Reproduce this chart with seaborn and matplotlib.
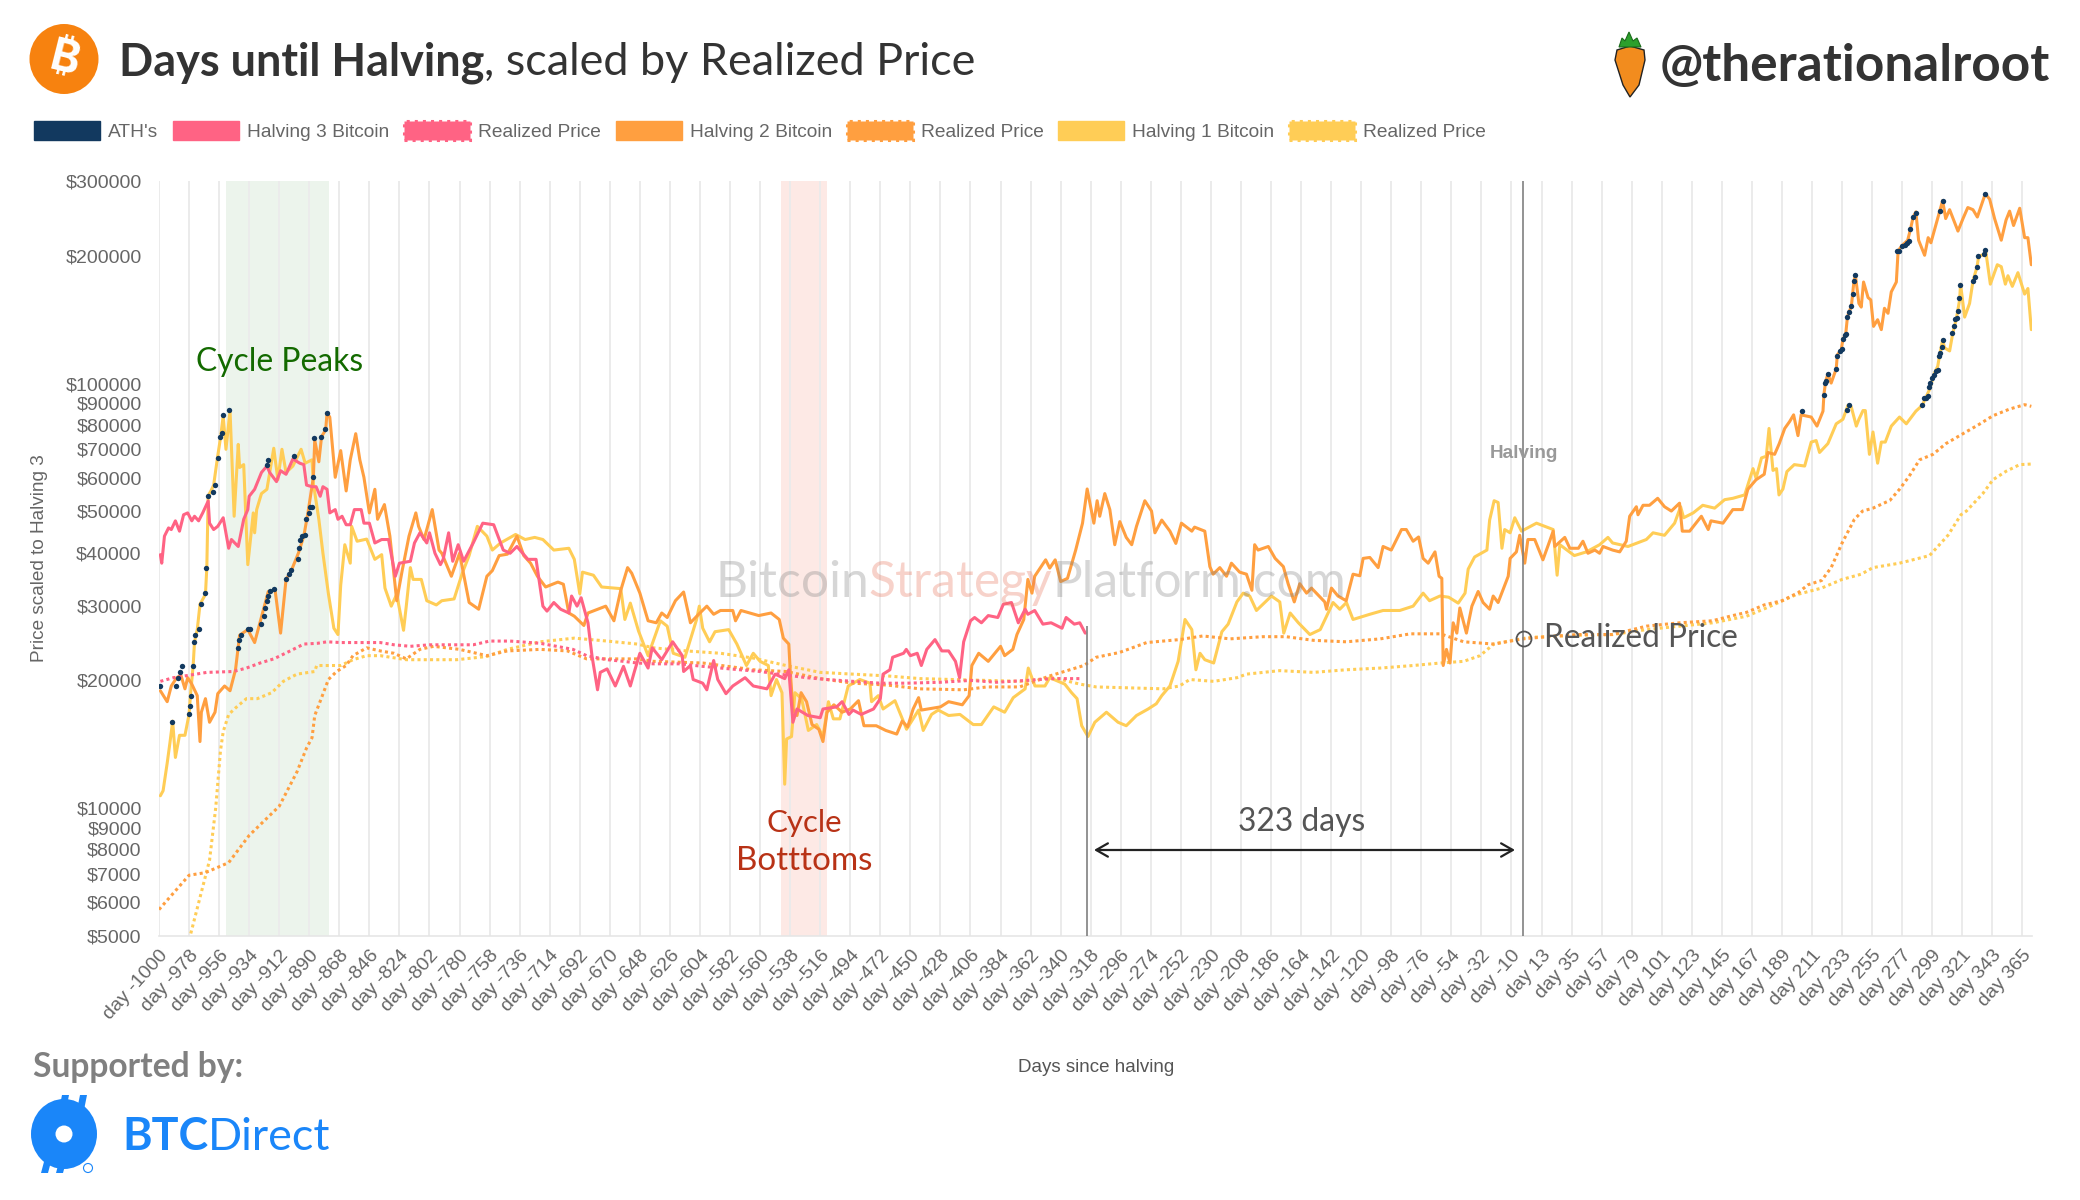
import numpy as np
import pandas as pd
import seaborn as sns
import matplotlib
matplotlib.use("Agg")
import matplotlib.pyplot as plt
from matplotlib.patches import Patch, Ellipse, Polygon, Circle

# ---------------- data (prices in thousands of dollars) ----------------
h3_days = [-999,-998,-996,-993,-991,-988,-985,-982,-979,-976,-974,-971,-968,-964,-963,-960,-957,-953,-949,-947,-942,-938,-935,-934,-930,-925,-921,-919,-914,-911,-907,-902,-897,-894,-892,-888,-885,-882,-880,-877,-875,-871,-869,-866,-863,-860,-857,-852,-850,-846,-842,-837,-832,-827,-824,-816,-813,-809,-804,-802,-798,-794,-792,-788,-785,-781,-777,-770,-763,-755,-748,-743,-738,-730,-724,-719,-716,-711,-706,-700,-698,-694,-691,-686,-683,-679,-677,-672,-666,-660,-655,-652,-648,-642,-639,-632,-624,-617,-616,-611,-609,-602,-599,-594,-591,-585,-580,-571,-565,-555,-549,-542,-539,-536,-533,-525,-516,-514,-504,-500,-495,-492,-486,-477,-472,-470,-465,-463,-455,-453,-450,-445,-442,-438,-432,-427,-422,-417,-414,-411,-406,-403,-398,-393,-386,-382,-376,-371,-366,-364,-359,-353,-347,-339,-336,-330,-326,-322]
h3_price = [40,38.2,44.2,46.2,45.8,48,45.4,49.6,50.1,48,49.2,48,50.1,53.4,47.4,45.8,46.6,48.8,41.4,43.4,41.8,48.4,51,54.8,56.9,62.3,64.5,62.3,59.3,62.9,61.7,67,65.5,65,58.2,57.7,57.7,54.8,57.7,56.9,50.1,51,48.4,49.2,47,47,51,51,47.4,47.4,42.6,43.4,43.4,35.6,38.2,38.6,42.6,45,42.6,45,40.3,37.9,39,45,38.6,42.2,38.6,42.6,47.4,47,41,40.3,41.8,39,39,30.3,29.5,30.9,29.8,29.2,32,30.3,31.7,27.7,23.1,19.3,21.2,21.6,19.7,21.9,19.7,21.3,23.5,21.7,24.2,22.7,25,23.2,21.3,22,20.4,20,19.3,22.6,20.4,18.9,19.7,20.6,19.7,19.4,21,20.5,21.5,16.2,17.4,16.8,16.6,17.4,17.6,18.1,16.9,17.3,16.9,17.4,18.4,21,21.5,23,23.5,24,23.2,23.5,22,24,25.3,23.8,23.8,22.5,20.6,25,28,28.5,27.7,28.8,28.5,30.6,30.9,27.7,29.8,29,29.6,27.5,27.7,26.9,28.5,27.5,27.7,26.2]

h2_days = [-999,-994,-991,-987,-984,-981,-979,-976,-972,-970,-969,-966,-963,-959,-957,-952,-948,-944,-942,-941,-935,-930,-926,-920,-915,-911,-907,-903,-898,-894,-891,-887,-886,-883,-881,-878,-877,-875,-871,-867,-863,-860,-856,-853,-850,-846,-842,-840,-835,-831,-826,-822,-817,-812,-810,-806,-800,-795,-793,-786,-780,-773,-766,-760,-756,-751,-745,-738,-733,-728,-723,-717,-708,-704,-700,-696,-689,-686,-673,-667,-662,-657,-654,-648,-642,-636,-632,-628,-622,-616,-611,-605,-599,-594,-589,-580,-578,-574,-561,-552,-546,-543,-539,-538,-536,-533,-530,-526,-522,-517,-514,-511,-506,-500,-494,-488,-484,-475,-468,-460,-456,-452,-448,-444,-442,-428,-422,-412,-407,-405,-400,-393,-384,-381,-375,-372,-367,-364,-361,-359,-351,-348,-344,-340,-335,-329,-324,-320.6,-315.7,-313.3,-311.4,-307.7,-304,-300.4,-296.7,-292,-288,-284.5,-278.4,-273.5,-271,-266,-260,-255.7,-251.6,-244,-242,-234.5,-230.8,-228.4,-223.5,-218.6,-215,-209,-204,-200,-198,-195.5,-188,-183,-177,-173.5,-169,-165,-160,-156.4,-146.7,-145.4,-141.8,-137,-131,-126,-121,-118.6,-113.7,-107.6,-104,-98,-90.5,-87,-82,-78,-74.7,-71,-66,-63,-61,-60,-57.6,-55,-52.7,-50,-47.8,-43,-39,-34.4,-30.8,-26,-23.4,-19.8,-12.4,-11,-6.4,-4,-0.3,2,7,13,17,20.5,21.7,29,32.7,39,42.3,46,51,54.5,57,64,69.2,74,76.5,81.4,82.6,86.3,91,97,102,107,113,115,120.4,125,129,134,136,144.8,152,159,163,169,175,177.7,182.6,186,190,193.6,196.5,199.7,202,209.4,213.6,218,218.7,220,221.6,224,227.7,228.5,231.4,232.6,234.6,235.8,236.8,238.7,239.7,240.7,241.7,244.3,246,247.7,251,253,255,258,260.7,263,265.6,268,271.7,273,276,280,282,284,286,288,292.4,295,297,303.4,305.6,307.8,310.7,316.8,320.5,324,327.8,331,336.8,340,343.6,348.5,352,354.6,357.5,362,365.6,368,370.5]
h2_price = [19.2,18.1,19.7,20.6,20.9,19.4,20.6,19.9,18.7,14.6,17.1,18.4,16.2,17.1,18.9,19.7,19.2,21.5,24.4,25.9,26.7,24.9,27.8,32.8,33,26.2,35,36.8,40.3,44.2,50.1,60.7,74.2,66,75.6,78.4,85.8,84,60.7,70.1,56.4,66.7,76.8,66.7,60.7,50.1,56.9,48.4,52.4,44.2,31.2,36.7,44.2,50.1,46.6,43.4,51,41,40.3,35.6,40.3,30.9,29.8,35.6,36.7,39.8,40.1,44.2,39.8,38.2,35.6,33.6,34.5,34.1,29.2,28.7,27.3,29.2,30.3,28,33,37.3,36.2,32.5,28,27.7,29.2,28.5,31.2,32.7,27.7,29,30.3,29,29.6,29.6,28,29.6,28.8,29.2,28.2,25.5,24.7,21.5,17.4,16.8,19,18.1,16,15.6,14.6,17.1,17.8,17.1,17.4,18.2,15.9,15.9,15.5,15.2,16.3,15.8,17.4,18.5,17.3,17.6,18.1,17.8,18.7,22,23.5,22.5,24.4,23.2,24,26,28.2,35,32.5,35.6,38.9,37.2,38.9,34.6,35.2,41,47.4,57,47.4,53.5,49.2,55.6,51,42.2,47.8,43.9,42.2,46.6,53.5,50.6,45,48.2,45.4,42.5,47.4,45.4,46.4,45.4,37.5,36,37.3,35.6,38.2,36.4,36,33,42.2,41,41.8,39.2,37.5,34.2,31,34.2,32.5,33.4,31,29.8,33.4,32,31.2,36,35.7,39.2,39.4,37.3,41.8,41,45.8,45.8,43,44,39.2,38.2,40.6,35.6,35.2,22,24,22.3,27.7,26.2,30,26.2,30.3,32.8,30.9,29.8,32,30.9,35.6,39.2,40.6,44.4,38.2,43.4,43.4,38.9,42.2,45.4,41.8,43.9,41.4,41.4,43,40.3,41,40.3,41.8,41,40.6,43,49.2,51.8,49.6,52.2,52.2,54.2,51.8,50.6,52.8,45.4,45.4,47.4,49.2,45.8,48,47.4,51,51,56.9,59.9,61.7,69.4,68.7,72.8,79,82,85,76,85,84,80,86.7,95,102,106,100.9,109,117.5,120.9,128,131,143,147.7,152,163,175,180.6,155,152,174,160,158,137,142,134.6,151,147,165,174,206,212,218,231,247,254,218,201,221,215,255,270,245,257,229,245,260,257,247,280,272,245,218,243,255,236,259,221,221,191]

h1_days = [-999,-997,-994,-992,-990,-988,-985,-981,-978,-977,-975,-974,-972,-970,-966,-965,-964,-962,-960,-957,-955,-953,-951,-948,-945,-942,-941,-938,-935,-931,-930,-928.5,-925,-921,-916,-913,-910,-907,-902,-896,-893,-888,-887,-883,-880,-876,-872,-869,-867,-864,-860,-859,-855,-848,-842,-837,-834.6,-830,-826,-821,-819,-816,-814,-808,-804,-797,-793,-784,-778,-773,-767,-760,-756,-750,-739,-732,-725,-719,-711,-700,-696,-692,-690,-682,-676,-662,-659,-655,-649,-642,-633,-628,-623.6,-615,-606.5,-604.5,-602,-597,-593,-583,-577,-570,-565,-560,-554,-552,-548,-544,-542,-540.6,-537,-534.5,-529.6,-524.7,-518.6,-514,-510,-506.4,-501.6,-495.5,-487,-479.6,-478.4,-473.5,-470,-461.3,-452.8,-444,-440.6,-434.5,-429.6,-422,-413.7,-404,-398,-389,-381,-374.7,-366,-363.7,-358.8,-351.5,-348,-337,-332,-328,-324.6,-320,-315,-306.5,-298,-292,-284.5,-276,-270,-266,-260,-254,-249,-244,-241,-238,-234.5,-228,-222,-217.4,-211,-206.4,-201.6,-196.7,-185.7,-179.6,-176.7,-172,-166,-157.6,-150,-140.6,-135.7,-130.8,-126,-113.7,-104,-91.8,-82,-74.7,-70,-62.4,-56,-49,-44,-41.7,-37,-28,-26,-22.7,-19.8,-17,-15,-11,-7.6,-2.7,8.3,20.5,23.4,25.4,36,44.8,54.5,60.6,64,75.3,88.7,93.6,102,109.4,113.8,116,123,130,138.7,146,152,160.7,166.8,169,173,176.5,178.5,181.4,184,185.8,188.7,191.6,197,204.6,209.4,213,215.5,221.6,227.7,232.6,236.3,238.7,242.4,244.3,247.3,249,252,254.6,258,260.7,263.6,268,274,279,286,290.7,296,299.7,302,303.4,305.6,307,310.7,313,315.6,318,318.7,321.7,325.3,327.8,330.7,332,336,337,340.5,345.6,348.5,351.5,353.4,356.6,360.7,365.6,368,370.5]
h1_price = [10.9,11.2,13,14.5,16.3,13.4,15.1,15.1,16.9,18.7,22,25,26.7,30.6,32.3,37.3,55,56.4,58.2,68.2,75,84.6,70.6,86.9,49.2,72.5,64,65,37.9,50.1,45,51,55.6,56.9,71,59.9,70.6,62.3,64.5,70.6,65.5,66.7,58.7,48.4,40.3,32.4,26.9,26,33.9,42.2,38.2,46.6,43,43.5,39,40,33.4,30.3,32.3,26.6,30.3,37.3,35,35,31.2,30.5,31.2,31.5,36.2,39.8,46.6,44.2,41,42.6,44.6,43.4,43.9,43.4,41,41.4,39,32.4,36.4,35.8,33.6,33.3,28.2,30.8,26.5,23.2,28,27.2,23.5,23,28.2,30.3,26.9,25,26.4,26.7,24.7,22,23.5,22.5,22,18.7,20.4,19,11.6,14.8,15,19,18.4,15.5,16,15,18.1,16.5,16.5,19.7,20.4,20,18.1,18.7,17.4,18.2,15.6,17.3,15.5,16.9,17.3,16.8,16.9,16,16,17.6,17.1,18.5,19.4,21.7,19.7,19.7,20.6,19.9,19,18.4,15.9,15,16.2,17.1,16.2,15.9,16.8,17.4,17.9,18.7,19.7,22.5,28.2,26.7,21.5,23.5,22.7,22.3,26.4,27.5,31,32.5,32,29.6,32,31,26.2,29.2,27.7,26,26.7,30.9,29.8,30.9,28.2,29,29.6,29.6,30.3,32.5,31.2,32,31.8,30.8,32.5,37,39.5,41,48.2,53.5,53,41.4,45.8,45,48.8,45.4,47.4,45.8,35.8,42.2,39.8,40.6,42.2,43.9,42.6,41.8,43.4,45,44.4,47.4,51.8,48.8,50.1,52.2,51.4,53.8,54.2,55.2,63.6,60.4,67.4,68,79,63,63.6,55.2,57,62.6,65,64.5,73.4,74,69.4,72.8,81,83,89.5,88.8,80,83,87,87,68.7,77.5,65.5,73.4,73.4,80,84,81,86.7,89.5,97.5,106.6,110.5,117.4,127.3,122,120,132,142.6,158,172,144,155,175,188.6,200,202,207,172,191,189,172,180,170,183,163,168,134.6]

rp3_days = [-999,-989.5,-977,-965,-945.6,-936,-926,-916,-904,-894,-884,-877,-867,-855,-838,-828,-816,-802,-782,-770,-758,-743,-721,-709,-697,-687,-672,-660,-650,-638,-619,-602,-582,-560,-541,-526,-511,-492,-472,-453,-428,-406,-387,-365,-345,-326]
rp3_price = [20.2,20.6,20.9,21.2,21.3,21.7,22.3,22.8,23.8,24.7,24.8,25,24.9,24.9,24.9,24.6,24.4,24.6,24.6,24.6,25.1,25.1,24.8,24.4,24,23.2,22.7,22.5,22.3,22.2,22.2,21.9,21.6,21.3,20.9,20.6,20.4,20.2,20,20,20.1,20.3,20.1,20.3,20.5,20.5]

rp2_days = [-1000,-978,-966,-949,-934,-912,-899,-892,-888,-886,-881,-876,-870,-863,-858,-848,-838,-828,-819,-809,-799,-780,-760,-745,-721,-701,-687,-672,-650,-638,-602,-565,-541,-516,-492,-467,-443,-411,-394,-370,-348,-323,-314,-297,-277,-253,-236,-216,-192,-175,-155,-131,-106,-84,-62,-45,-23,-1.5,16,39,64,88.7,113,137,150,162,175,188,200,207,217,224,232,241,247,254.6,267,274,281,288.7,298.5,308,320.5,332.7,342.4,354.6,365.6,370.5]
rp2_price = [5.9,7.1,7.2,7.6,8.8,10.3,12.4,14.1,14.9,16.8,18.5,20.4,21.3,22,23.2,24.2,23.8,23.5,22.8,24,24.4,24,23.2,23.8,24,23.8,22.8,22.8,22.8,22.5,22.3,21.5,21.3,20.5,20,19.8,19.4,19.3,19.6,19.6,20.8,22,23,23.6,24.9,25.3,25.8,25.4,25.7,25.7,25.2,25,25.4,26.1,26.1,25,24.7,25.4,25.7,26,26,27.2,27.7,28,28.7,29.3,30.5,31.2,32.6,34,34.8,37.3,42.6,48.4,50.6,51.4,53.6,56.9,61,66.7,68.7,72.8,76.8,80.9,84.6,87.7,89.8,89]

rp1_days = [-980,-978,-963,-958.5,-955,-953,-949,-944,-936,-928,-917.5,-909,-899,-886,-884.6,-867,-858,-848,-838,-819,-804,-782,-760,-745,-721,-696,-672,-650,-638,-614,-589,-565,-541,-516,-492,-467,-443,-419,-394,-370,-345,-326,-314,-289,-265,-253,-245.5,-228,-211,-204,-179.6,-155,-131,-106,-82,-62,-45,-33,-23,-9,3,39,64,88.7,113,137.5,162,176.5,198,217,232,246,254.6,274,296,309.5,319,323,335,342.4,352,362,370.5]
rp1_price = [4.7,5.0,7.7,10.2,13.9,15.4,16.9,17.5,18.4,18.4,19,20.2,21,21.3,22,22,22.7,23.2,23.2,22.7,22.7,22.7,23.1,24,25,25.5,25.1,24.7,24.2,23.8,23.5,22.9,22,21.2,21,20.8,20.5,20.4,20.3,20.2,20.6,19.9,19.6,19.5,19.4,19.7,20.4,20.2,20.6,21,21.4,21.2,21.5,21.7,22,22.3,22.5,23.2,24.7,25.2,25.6,25.9,26,26.7,27.2,27.7,28.7,30,32.2,33.4,35,36,37.3,38.2,39.8,44.4,49.6,50.6,55.6,59.9,62.7,65,65.2]

ath_days = [-990.2,-978.3,-977.3,-976.6,-975.4,-974.4,-973.4,-970.5,-969.3,-966.3,-965.4,-964.4,-960.2,-959.2,-956.6,-955.3,-954.1,-953.4,-948.5,
            -999.3,-987.6,-986.3,-984.6,-983.4,-942.4,-941.4,-940.2,-934.6,-933.1,-925.3,-923.4,-922.4,-921.2,-920.5,-918.7,-915.6,-907.3,-904.6,-903.4,-898.5,-897.3,-896.5,-895,-893.4,-892.4,-890.4,-889.5,-888,-887.3,-886.3,-881.4,-878.5,-877.3,
            -921.2,-920.5,-901.4,
            235.8,236.8,290.7,291.7,293.1,294.8,295.6,296.6,297.5,299,300.5,301.9,302.7,303.9,304.8,305.6,312.7,313.6,314.6,315.8,316.6,317.8,318.5,327.8,329,330.7,331.7,335.6,336.8,
            202.6,218.5,219.7,220.4,221.6,227.3,228.5,230.7,231.9,232.9,233.8,234.8,235.5,236.8,238.7,239.7,240.7,241.7,272.4,273.9,275.6,277.8,279.5,281,281.9,283.6,285.8,303.6,305.6,336.8]
ath_price = [16.2,16.9,17.7,18.7,22,25,25.9,26.8,30.6,32.5,37.2,55,56.2,58.2,67.2,75.4,77.2,84.8,87.1,
             19.7,19.7,20.6,21.2,22,24.2,25.2,25.9,26.8,26.8,27.5,28.8,30,31.2,32,32.8,33.2,35,36,36.8,39,41.4,43.4,44.2,44.5,48.4,50.1,51.8,51.8,60.7,75.2,75.6,78.6,85.8,
             65,66.7,68,
             87.1,89.5,89.7,93.3,93.3,94.2,98.7,100.9,103.6,105.5,107.8,108.4,116.5,118.6,122.5,127.3,131.9,137.3,142.6,143.2,149.2,159.4,171,174.9,178.8,188.8,200,202,207,
             87,94.8,101.2,102.3,105.8,109,117,120,121.5,128.3,130.7,131.8,143.7,147.7,152.8,163,174.8,180.7,206,206,211.6,212.7,215,217,231,247,253,255,270,280]

tick_positions = [-1000,-978,-956,-934,-912,-890,-868,-846,-824,-802,-780,-758,-736,-714,-692,-670,-648,-626,-604,-582,-560,-538,-516,-494,-472,-450,-428,-406,-384,-362,-340,-318,-296,-274,-252,-230,-208,-186,-164,-142,-120,-98,-76,-54,-32,-10,12,34,56,78,100,122,144,166,188,210,232,254,276,298,320,342,364]
tick_labels = ["day -1000","day -978","day -956","day -934","day -912","day -890","day -868","day -846","day -824","day -802","day -780","day -758","day -736","day -714","day -692","day -670","day -648","day -626","day -604","day -582","day -560","day -538","day -516","day -494","day -472","day -450","day -428","day -406","day -384","day -362","day -340","day -318","day -296","day -274","day -252","day -230","day -208","day -186","day -164","day -142","day -120","day -98","day -76","day -54","day -32","day -10","day 13","day 35","day 57","day 79","day 101","day 123","day 145","day 167","day 189","day 211","day 233","day 255","day 277","day 299","day 321","day 343","day 365"]
y_ticks = [5000,6000,7000,8000,9000,10000,20000,30000,40000,50000,60000,70000,80000,90000,100000,200000,300000]

PINK, ORANGE, GOLD, NAVY = "#FF6384", "#FF9F40", "#FFCD56", "#12395F"
DOTTED = (0, (1, 1.05))
UI = "Lato"
SANS = "Liberation Sans"
TOP_PRICE = 300000
# The values above were read against a 427.4 px/decade ruler; the axis measures 425 px/decade.
RULER = 427.4 / 425

sns.set_theme(style="white")
plt.rcParams["font.family"] = [SANS, "DejaVu Sans"]

W, H = 2080, 1200
AX_L, AX_R, AX_T, AX_B = 159, 2032, 181, 936
fig = plt.figure(figsize=(W / 100, H / 100), dpi=100, facecolor="white")
ax = fig.add_axes([AX_L / W, 1 - AX_B / H, (AX_R - AX_L) / W, (AX_B - AX_T) / H])
ax.set_yscale("log")

ax.axvspan(-951, -875.5, color="#2e8b2e", alpha=0.09, lw=0, zorder=0.5)
ax.axvspan(-545, -511, color="#f4583c", alpha=0.13, lw=0, zorder=0.5)


def frame(days, price):
    dollars = np.asarray(price, dtype=float) * 1000
    return pd.DataFrame({"day": days, "price": TOP_PRICE * (dollars / TOP_PRICE) ** RULER})


series = [
    (h1_days, h1_price, GOLD, "-", 2.2, 2.0),
    (rp1_days, rp1_price, GOLD, DOTTED, 2.2, 2.1),
    (h2_days, h2_price, ORANGE, "-", 2.2, 2.2),
    (rp2_days, rp2_price, ORANGE, DOTTED, 2.2, 2.3),
    (h3_days, h3_price, PINK, "-", 2.2, 2.4),
    (rp3_days, rp3_price, PINK, DOTTED, 2.2, 2.5),
]
for d, p, c, ls, lw, z in series:
    sns.lineplot(data=frame(d, p), x="day", y="price", color=c, linestyle=ls,
                 linewidth=lw, errorbar=None, estimator=None, legend=False,
                 ax=ax, zorder=z)
sns.scatterplot(data=frame(ath_days, ath_price), x="day", y="price", color=NAVY,
                s=15, linewidth=0, legend=False, ax=ax, zorder=4)

ax.vlines(-321, 5000, 26800, color="#808080", lw=1.2, zorder=3)
ax.vlines(-1.5, 5000, 300000, color="#808080", lw=1.2, zorder=3)

ax.set_xlim(-1000, 371)
ax.set_ylim(5000, 300000)
ax.set_xticks(tick_positions)
ax.set_xticklabels(tick_labels, rotation=48, ha="right", va="top", rotation_mode="anchor",
                   fontsize=14, color="#666666")
ax.set_yticks(y_ticks)
ax.set_yticklabels([f"${v}" for v in y_ticks], fontsize=14, color="#666666")
ax.minorticks_off()
ax.tick_params(axis="both", length=0)
ax.tick_params(axis="x", pad=8)
ax.tick_params(axis="y", pad=12.5)
ax.xaxis.grid(True, color="#ebebeb", lw=1.4, zorder=0)
ax.yaxis.grid(False)
ax.set_axisbelow(True)
for s in ("top", "right", "left"):
    ax.spines[s].set_visible(False)
ax.spines["bottom"].set_color("#e6e6e6")
ax.spines["bottom"].set_linewidth(1.2)
ax.set_xlabel("Days since halving", fontsize=13.5, color="#555555")
ax.set_ylabel("Price scaled to Halving 3", fontsize=13.7, color="#666666")
ax.xaxis.set_label_coords((1096 - AX_L) / (AX_R - AX_L), -(1068 - AX_B) / (AX_B - AX_T), transform=ax.transAxes)
ax.yaxis.set_label_coords((40 - AX_L) / (AX_R - AX_L), 1 - (558 - AX_T) / (AX_B - AX_T), transform=ax.transAxes)
ax.xaxis.label.set_va("center")
ax.yaxis.label.set_va("center")

# overlay in pixel coordinates for annotations and logos
ov = fig.add_axes([0, 0, 1, 1], zorder=10)
ov.set_xlim(0, W)
ov.set_ylim(H, 0)
ov.axis("off")
ov.patch.set_alpha(0)

handles = [
    Patch(fc=NAVY, ec=NAVY, lw=1),
    Patch(fc=PINK, ec=PINK, lw=1),
    Patch(fc=PINK, ec=PINK, lw=2.2, ls=":"),
    Patch(fc=ORANGE, ec=ORANGE, lw=1),
    Patch(fc=ORANGE, ec=ORANGE, lw=2.2, ls=":"),
    Patch(fc=GOLD, ec=GOLD, lw=1),
    Patch(fc=GOLD, ec=GOLD, lw=2.2, ls=":"),
]
labels = ["ATH's", "Halving 3 Bitcoin", "Realized Price", "Halving 2 Bitcoin", "Realized Price",
          "Halving 1 Bitcoin", "Realized Price"]
ov.legend(handles, labels, ncol=7, loc="lower left", bbox_to_anchor=(34, 141), bbox_transform=ov.transData,
          frameon=False, fontsize=13.8, labelcolor="#666666", handlelength=3.45, handleheight=1.15,
          handletextpad=0.42, columnspacing=0.76, borderpad=0, borderaxespad=0)

RENDERER = fig.canvas.get_renderer()


def fitted(x, y, parts, width, anchor="left", **kw):
    """Place consecutive real text runs so that together they span `width` pixels."""
    size = kw.pop("fontsize", 20)
    probes = [ov.text(0, 0, txt, fontsize=size, **{**kw, **extra}) for txt, extra in parts]
    total = sum(p.get_window_extent(RENDERER).width for p in probes)
    for p in probes:
        p.remove()
    size = size * width / total
    if anchor == "center":
        x -= width / 2
    for txt, extra in parts:
        t = ov.text(x, y, txt, fontsize=size, **{**kw, **extra})
        x += t.get_window_extent(RENDERER).width


# header
ov.add_patch(Ellipse((64, 59), 69, 70, fc="#F7820F", ec="none"))
ov.text(64, 60, "\u20bf", color="white", fontsize=32, fontweight="bold", ha="center", va="center",
        rotation=-14, family=["Inter", "Roboto", "Open Sans", "Noto Sans", "DejaVu Sans"])
fitted(119, 75, [("Days until Halving", {"fontweight": "bold"}), (", scaled by Realized Price", {})], 858,
       family=UI, color="#333333", va="baseline")
ov.add_patch(Polygon([(1617, 50), (1630, 46), (1644, 50), (1645, 60), (1639, 85), (1630, 97),
                      (1623, 85), (1615, 60)], fc="#F28C1E", ec="#222222", lw=1))
ov.add_patch(Polygon([(1619, 47), (1622, 38), (1625, 41), (1629, 32), (1633, 41), (1637, 38), (1641, 47)],
                     fc="#2CA02C", ec="#1a6b1a", lw=0.8))
fitted(1660, 81, [("@therationalroot", {"fontweight": "bold"})], 390, family=UI, color="#333333", va="baseline")

# annotations
fitted(280, 362, [("Cycle Peaks", {})], 167, anchor="center", family=UI, color="#136A00", va="center")
fitted(804, 823, [("Cycle", {})], 76, anchor="center", family=UI, color="#B83216", va="center")
fitted(804, 861, [("Botttoms", {})], 136, anchor="center", family=UI, color="#B83216", va="center")
fitted(1302, 822, [("323 days", {})], 127, anchor="center", family=UI, color="#555555", va="center")
ov.annotate("", xy=(1094, 850), xytext=(1515, 850),
            arrowprops=dict(arrowstyle="<->,head_length=0.7,head_width=0.4", color="#222222", lw=1.6,
                            shrinkA=0, shrinkB=0))
ov.text(1524, 453, "Halving", family=SANS, fontsize=13.6, fontweight="bold", color="#999999",
        ha="center", va="center")
ov.add_patch(Circle((1524, 639), 7.5, fc="none", ec="#555555", lw=1.3))
fitted(1544, 638, [("Realized Price", {})], 195, family=UI, color="#555555", va="center")

# watermark
fitted(715, 597, [("Bitcoin", {"color": "#808080"}), ("Strategy", {"color": "#E8745A"}),
                  ("Platform.com", {"color": "#808080"})], 630,
       family=UI, alpha=0.32, va="baseline")

# sponsor
fitted(33, 1077, [("Supported by:", {})], 211, family=UI, fontweight="bold", color="#808080", va="baseline")
BLUE = "#1A86F9"
ov.add_patch(Ellipse((64, 1134), 66, 70, fc=BLUE, ec="none"))
ov.add_patch(Circle((64, 1134), 8.5, fc="white", ec="none"))
for pts in ([(62, 1095), (69, 1095), (66, 1110), (59, 1110)], [(80, 1095), (87, 1095), (84, 1110), (77, 1110)],
            [(45, 1158), (52, 1158), (48, 1173), (41, 1173)], [(60, 1158), (67, 1158), (63, 1173), (56, 1173)]):
    ov.add_patch(Polygon(pts, fc=BLUE, ec="none"))
ov.add_patch(Circle((88, 1168), 4.5, fc="none", ec=BLUE, lw=0.8))
fitted(122, 1150, [("BTC", {"fontweight": "bold"}), ("Direct", {})], 209, family=UI, color=BLUE, va="baseline")

fig.savefig("out.png", dpi=100, facecolor="white")
